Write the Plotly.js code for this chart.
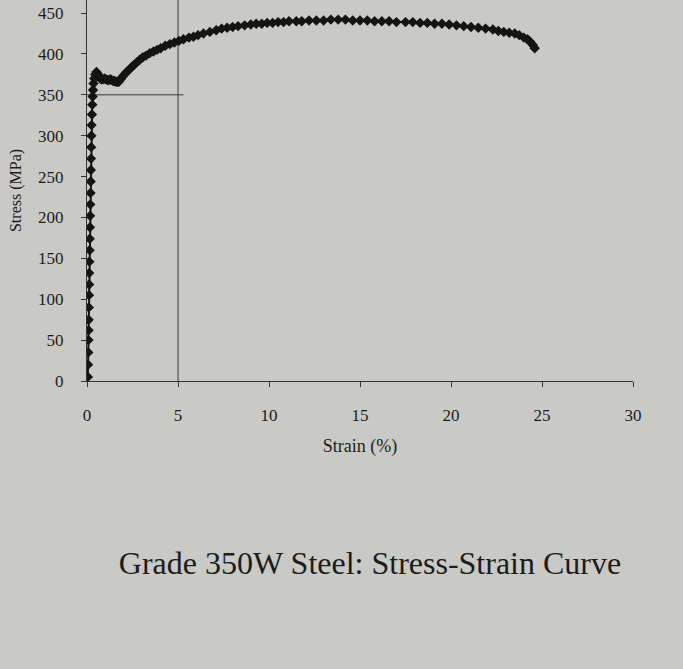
<!DOCTYPE html>
<html>
<head>
<meta charset="utf-8">
<script src="https://cdn.plot.ly/plotly-3.0.1.min.js"></script>
<style>
  html, body { margin: 0; padding: 0; background: #c9cac5; }
  #chart { width: 683px; height: 669px; }
</style>
</head>
<body>
<div id="chart"></div>
<script>
// Stress-strain test data (strain in %, stress in MPa)
const strain = [
  0.05, 0.06, 0.07, 0.08, 0.085, 0.09, 0.10, 0.11, 0.115, 0.12, 0.13, 0.14, 0.15, 0.16, 0.17,
  0.18, 0.19, 0.20, 0.21, 0.22, 0.23, 0.24, 0.25, 0.27, 0.29, 0.31, 0.33, 0.36, 0.40, 0.45,
  0.52, 0.58, 0.65, 0.72, 0.80, 0.88, 0.96, 1.04, 1.12, 1.20, 1.28, 1.36, 1.44, 1.52, 1.60,
  1.68, 1.75, 1.85, 1.95, 2.05, 2.18, 2.32, 2.46, 2.60, 2.75, 2.90, 3.07, 3.25, 3.45, 3.65,
  3.85, 4.05, 4.30, 4.55, 4.80, 5.05, 5.30, 5.60, 5.85, 6.10, 6.40, 6.75, 7.10, 7.40, 7.70,
  8.00, 8.30, 8.66, 9.00, 9.30, 9.60, 9.90, 10.2, 10.5, 10.8, 11.1, 11.5, 11.8, 12.2, 12.6,
  13.0, 13.4, 13.8, 14.2, 14.6, 15.0, 15.4, 15.8, 16.2, 16.6, 17.0, 17.5, 17.9, 18.3, 18.7,
  19.1, 19.5, 19.9, 20.3, 20.7, 21.1, 21.5, 21.9, 22.3, 22.6, 22.9, 23.2, 23.5, 23.75, 24.0,
  24.2, 24.35, 24.5, 24.6
];
const stress = [
  5, 20, 35, 50, 62, 75, 90, 105, 118, 132, 146, 160, 174, 188, 202,
  216, 230, 244, 258, 272, 286, 300, 313, 326, 338, 348, 356, 364, 370, 375,
  378, 376, 372, 370, 369, 369, 370, 369, 368, 368, 369, 368, 367, 367, 366,
  366, 366, 369, 372, 375, 378, 381, 384, 387, 390, 393, 396, 398, 401, 403,
  405, 407, 410, 412, 414, 416, 418, 420, 421, 423, 425, 427, 429, 431, 432,
  433, 434, 435, 436, 437, 437, 438, 438, 439, 439, 440, 440, 440, 441, 441,
  441, 442, 442, 442, 441, 441, 441, 440, 440, 440, 439, 439, 439, 438, 438,
  437, 437, 436, 435, 434, 433, 432, 431, 430, 428, 427, 426, 425, 423, 420,
  418, 415, 411, 407
];

// Reference lines drawn on the chart
const yieldLineX = [0, 5.3];
const yieldLineY = [350, 350];
const strainLineX = [5, 5];
const strainLineY = [0, 500];

// Axis ticks
const xTicks = [0, 5, 10, 15, 20, 25, 30];
const yTicks = [0, 50, 100, 150, 200, 250, 300, 350, 400, 450];

const serif = "Liberation Serif, Times New Roman, serif";
const ink = "#1c1c1c";

const traces = [
  {
    x: yieldLineX, y: yieldLineY, mode: "lines", type: "scatter",
    line: { color: "#3a3a3a", width: 1 }, hoverinfo: "skip", showlegend: false
  },
  {
    x: strainLineX, y: strainLineY, mode: "lines", type: "scatter",
    line: { color: "#3a3a3a", width: 1 }, hoverinfo: "skip", showlegend: false
  },
  {
    x: strain, y: stress, mode: "lines+markers", type: "scatter",
    line: { color: "#141414", width: 2 },
    marker: { symbol: "diamond", size: 8, color: "#141414" },
    showlegend: false
  }
];

const layout = {
  width: 683, height: 669,
  paper_bgcolor: "#c9cac5", plot_bgcolor: "#c9cac5",
  margin: { l: 87, r: 50, t: 0, b: 288 },
  font: { family: serif, color: ink, size: 16 },
  title: {
    text: "Grade 350W Steel: Stress-Strain Curve",
    font: { family: serif, size: 32, color: ink },
    x: 370 / 683, xanchor: "center", xref: "container",
    y: 1 - 563 / 669, yanchor: "middle", yref: "container"
  },
  xaxis: {
    range: [0, 30], tickvals: xTicks, ticktext: xTicks.map(String),
    showgrid: false, zeroline: false,
    showline: true, linecolor: "#333", linewidth: 1,
    ticks: "outside", ticklen: 5, tickcolor: "#333",
    ticklabelstandoff: 14,
    tickfont: { family: serif, size: 17, color: ink },
    title: { text: "Strain (%)", font: { family: serif, size: 18, color: ink }, standoff: 14 }
  },
  yaxis: {
    range: [0, 466], tickvals: yTicks, ticktext: yTicks.map(String),
    showgrid: false, zeroline: false,
    showline: true, linecolor: "#333", linewidth: 1,
    ticks: "outside", ticklen: 5, tickcolor: "#333",
    ticklabelstandoff: 14,
    tickfont: { family: serif, size: 17, color: ink },
    title: { text: "Stress (MPa)", font: { family: serif, size: 16, color: ink }, standoff: 12 }
  }
};

Plotly.newPlot("chart", traces, layout, { displayModeBar: false, staticPlot: true });
</script>
</body>
</html>
